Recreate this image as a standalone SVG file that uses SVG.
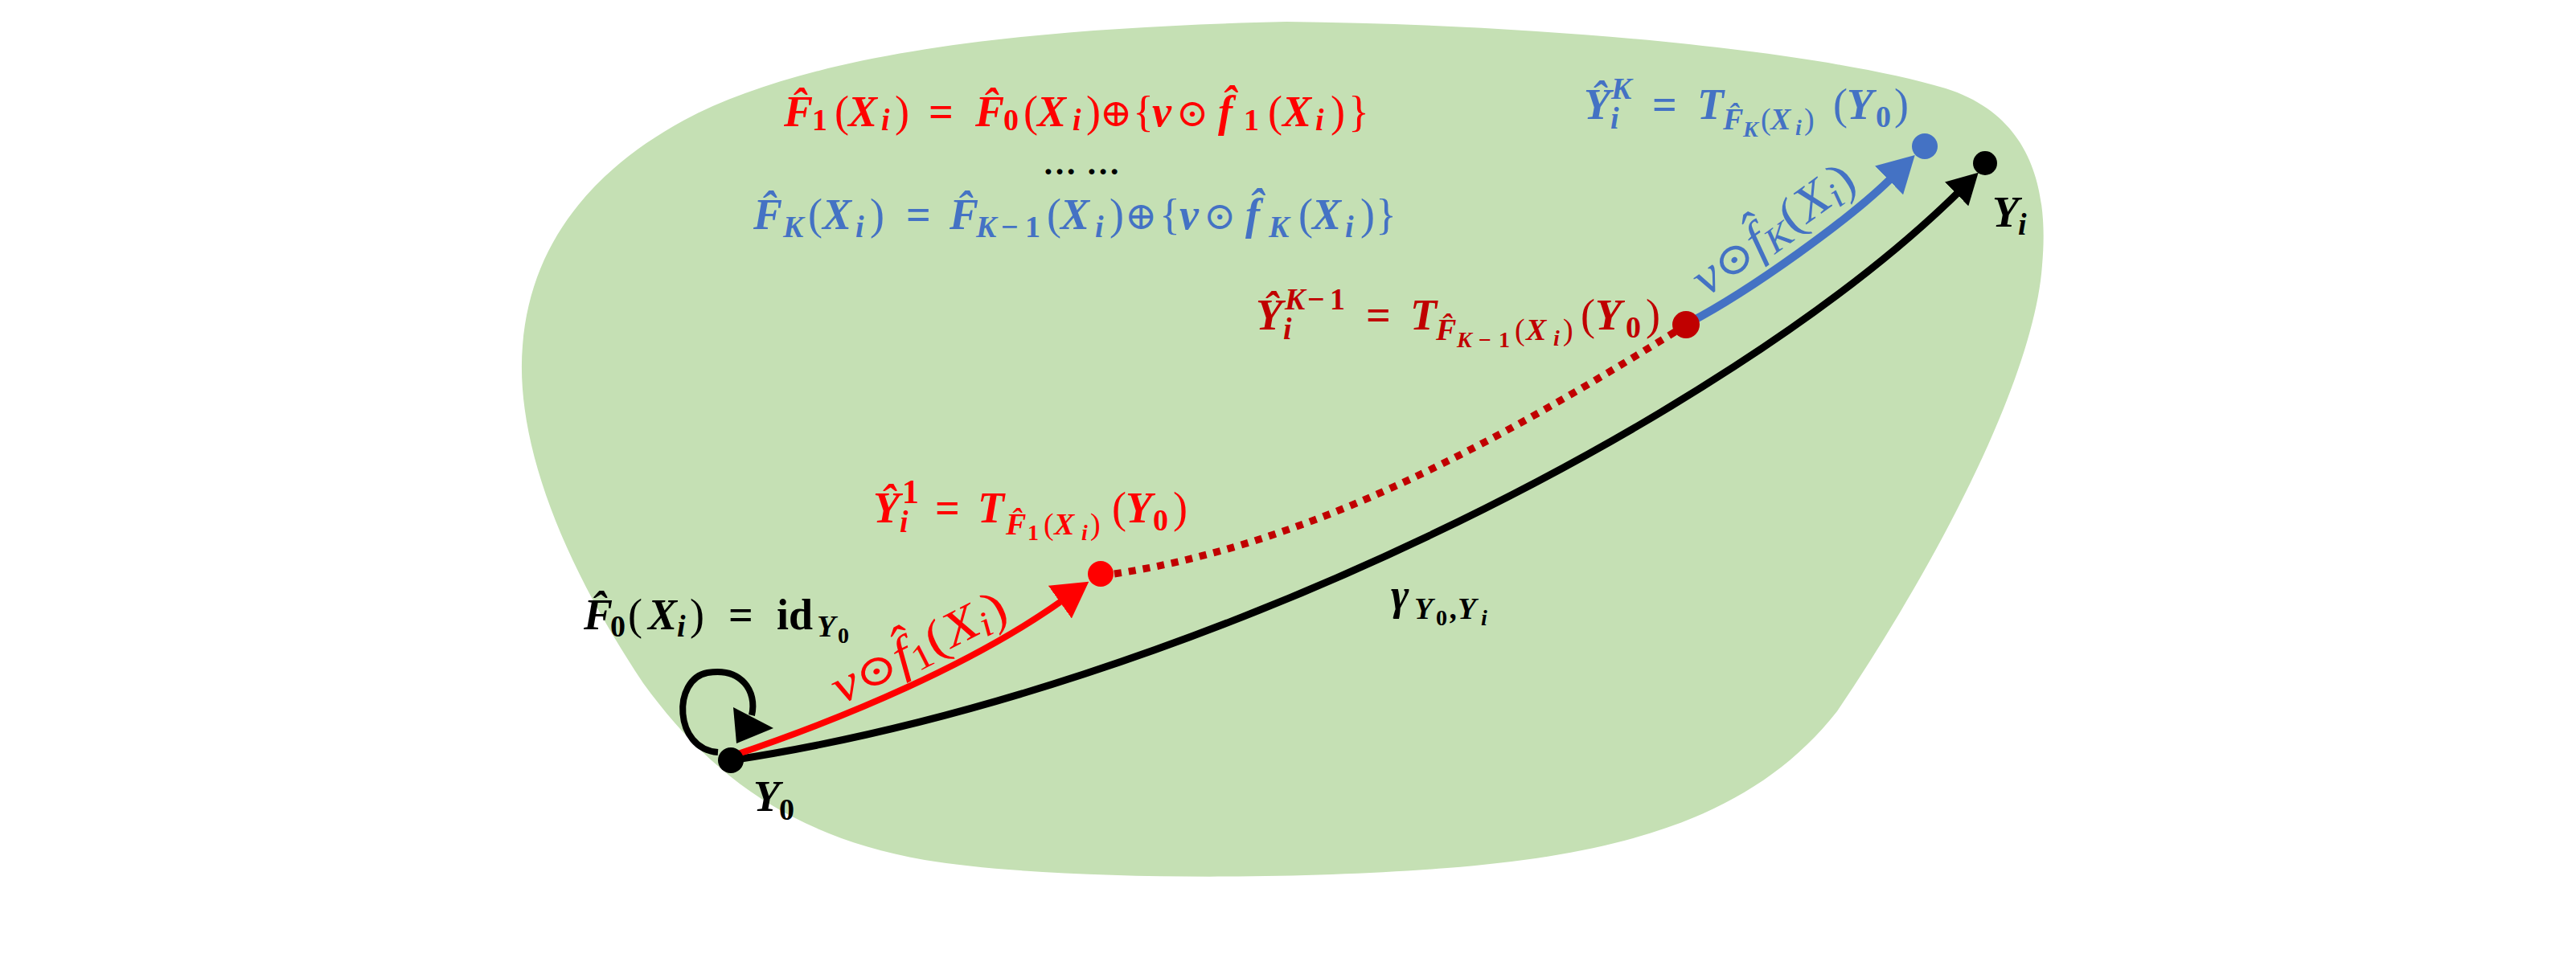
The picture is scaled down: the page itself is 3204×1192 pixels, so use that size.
<svg xmlns="http://www.w3.org/2000/svg" width="3204" height="1192" viewBox="0 0 3204 1192">
<defs>
<style>
.m{font-family:"Liberation Serif","DejaVu Serif",serif;font-size:54px;font-weight:bold;font-style:italic}
.r{font-family:"Liberation Serif","DejaVu Serif",serif;font-size:62px;font-weight:normal;font-style:italic}
.s{font-size:38px}
.rs{font-size:44px}
.sp{font-size:42px}
.ss{font-size:28px}
.op{font-size:48px;font-style:normal;font-weight:normal}
.rop{font-size:54px;font-style:normal;font-weight:normal}
.u{font-style:normal;font-weight:normal}
.ub{font-style:normal}
.red{fill:#FF0000}
.blue{fill:#4472C4}
.dred{fill:#C00000}
.blk{fill:#000000}
.ln{fill:none;stroke-linecap:butt}
</style>
<marker id="ahBlack" markerUnits="userSpaceOnUse" viewBox="0 0 38 42" markerWidth="38" markerHeight="42" refX="2" refY="21" orient="auto"><path d="M0,0 L38,21 L0,42 Z" fill="#000000"/></marker>
<marker id="ahRed" markerUnits="userSpaceOnUse" viewBox="0 0 44 50" markerWidth="44" markerHeight="50" refX="2" refY="25" orient="auto"><path d="M0,0 L44,25 L0,50 Z" fill="#FF0000"/></marker>
<marker id="ahBlue" markerUnits="userSpaceOnUse" viewBox="0 0 45 50" markerWidth="45" markerHeight="50" refX="2" refY="25" orient="auto"><path d="M0,0 L45,25 L0,50 Z" fill="#4472C4"/></marker>
</defs>
<rect width="3204" height="1192" fill="#FFFFFF"/>
<g id="manifold">
<path d="M1600,27 C1900,30 2250,60 2420,110 C2530,145 2548,240 2540,330 C2530,470 2410,700 2285,885 C2185,1012 2030,1062 1800,1080 C1600,1096 1300,1095 1150,1070 C980,1040 880,960 800,850 C700,700 640,550 650,430 C660,300 740,210 850,150 C1000,70 1250,35 1600,27 Z" fill="#C5E0B4"/>
</g>
<g id="connectors">
<path id="c-geodesic" class="ln" d="M909,946 C1480,860 2150,520 2435,240" stroke="#000000" stroke-width="9" marker-end="url(#ahBlack)"/>
<path id="c-step1" class="ln" d="M912,940 C1052,893 1210,826 1320,748" stroke="#FF0000" stroke-width="8" marker-end="url(#ahRed)"/>
<path id="c-dotted" class="ln" d="M1386,714 C1630,677 1858,553 2088,410" stroke="#C00000" stroke-width="9" stroke-dasharray="9 9"/>
<path id="c-stepK" class="ln" d="M2100,402 C2180,360 2301,272 2351,223" stroke="#4472C4" stroke-width="10" marker-end="url(#ahBlue)"/>
<g id="c-loop">
<path class="ln" d="M893,936 C838,932 836,845 880,837 C922,830 942,860 935,890" stroke="#000000" stroke-width="8"/>
<polygon points="912,880 962,906 916,925" fill="#000000"/>
</g>
<text id="lbl-step1" class="r red" x="1046" y="877" transform="rotate(-27 1046 877)" textLength="237" lengthAdjust="spacingAndGlyphs"><tspan>ν</tspan><tspan class="rop">⊙</tspan><tspan>f̂</tspan><tspan class="rs u" dy="7">1</tspan><tspan class="u" dy="-7">(</tspan><tspan>X</tspan><tspan class="rs" dy="7">i</tspan><tspan class="u" dy="-7">)</tspan></text>
<text id="lbl-stepK" class="r blue" x="2122" y="370" transform="rotate(-36 2122 370)" textLength="235" lengthAdjust="spacingAndGlyphs"><tspan>ν</tspan><tspan class="rop">⊙</tspan><tspan>f̂</tspan><tspan class="rs" dy="7">K</tspan><tspan class="u" dy="-7">(</tspan><tspan>X</tspan><tspan class="rs" dy="7">i</tspan><tspan class="u" dy="-7">)</tspan></text>
<text id="lbl-geodesic" class="m blk"><tspan x="1730" y="758">γ</tspan><tspan class="s" x="1759" y="770">Y</tspan><tspan class="ss ub" x="1786" y="778">0</tspan><tspan class="s" x="1804" y="770">,</tspan><tspan class="s" x="1813" y="770">Y</tspan><tspan class="ss" x="1842" y="778">i</tspan></text>
</g>
<g id="eq-F1">
<text class="m red"><tspan x="975" y="157">F̂</tspan><tspan class="s ub" x="1010" y="162">1</tspan><tspan class="u" x="1038" y="157">(</tspan><tspan x="1055" y="157">X</tspan><tspan class="s" x="1096" y="162">i</tspan><tspan class="u" x="1113" y="157">)</tspan><tspan class="ub" x="1155" y="157">=</tspan><tspan x="1213" y="157">F̂</tspan><tspan class="s ub" x="1248" y="162">0</tspan><tspan class="u" x="1273" y="157">(</tspan><tspan x="1290" y="157">X</tspan><tspan class="s" x="1334" y="162">i</tspan><tspan class="u" x="1351" y="157">)</tspan><tspan class="op" x="1368" y="157">⊕</tspan><tspan class="u" x="1409" y="157">{</tspan><tspan x="1433" y="157">ν</tspan><tspan class="op" x="1463" y="157">⊙</tspan><tspan x="1515" y="157">f̂</tspan><tspan class="s ub" x="1547" y="162">1</tspan><tspan class="u" x="1577" y="157">(</tspan><tspan x="1595" y="157">X</tspan><tspan class="s" x="1636" y="162">i</tspan><tspan class="u" x="1655" y="157">)</tspan><tspan class="u" x="1677" y="157">}</tspan></text>
</g>
<g id="eq-dots">
<text class="m ub blk" style="font-size:42px"><tspan x="1297" y="217">…</tspan><tspan x="1351" y="217">…</tspan></text>
</g>
<g id="eq-FK">
<text class="m blue"><tspan x="937" y="285">F̂</tspan><tspan class="s" x="974" y="295">K</tspan><tspan class="u" x="1005" y="285">(</tspan><tspan x="1023" y="285">X</tspan><tspan class="s" x="1064" y="295">i</tspan><tspan class="u" x="1082" y="285">)</tspan><tspan class="ub" x="1127" y="285">=</tspan><tspan x="1181" y="285">F̂</tspan><tspan class="s" x="1214" y="295">K</tspan><tspan class="s ub" x="1245" y="295">−</tspan><tspan class="s ub" x="1275" y="295">1</tspan><tspan class="u" x="1302" y="285">(</tspan><tspan x="1319" y="285">X</tspan><tspan class="s" x="1362" y="295">i</tspan><tspan class="u" x="1380" y="285">)</tspan><tspan class="op" x="1399" y="285">⊕</tspan><tspan class="u" x="1442" y="285">{</tspan><tspan x="1467" y="285">ν</tspan><tspan class="op" x="1497" y="285">⊙</tspan><tspan x="1549" y="285">f̂</tspan><tspan class="s" x="1578" y="295">K</tspan><tspan class="u" x="1615" y="285">(</tspan><tspan x="1632" y="285">X</tspan><tspan class="s" x="1673" y="295">i</tspan><tspan class="u" x="1692" y="285">)</tspan><tspan class="u" x="1711" y="285">}</tspan></text>
</g>
<g id="node-Y0">
<circle cx="909" cy="946" r="16" fill="#000000"/>
<text class="m blk"><tspan x="937" y="1009">Y</tspan><tspan class="s ub" x="969" y="1020">0</tspan></text>
<text class="m blk"><tspan x="726" y="783">F̂</tspan><tspan class="s ub" x="759" y="792">0</tspan><tspan class="u" x="781" y="783">(</tspan><tspan x="806" y="783">X</tspan><tspan class="s" x="842" y="792">i</tspan><tspan class="u" x="858" y="783">)</tspan><tspan class="ub" x="906" y="783">=</tspan><tspan class="ub" x="966" y="783">id</tspan><tspan class="s" x="1016" y="792">Y</tspan><tspan class="ss ub" x="1042" y="800">0</tspan></text>
</g>
<g id="node-Y1">
<circle cx="1369" cy="714" r="16" fill="#FF0000"/>
<text class="m red"><tspan x="1086" y="650">Ŷ</tspan><tspan class="sp ub" x="1122" y="626">1</tspan><tspan class="s" x="1119" y="662">i</tspan><tspan class="ub" x="1163" y="650">=</tspan><tspan x="1216" y="650">T</tspan><tspan class="s" x="1251" y="665">F̂</tspan><tspan class="ss ub" x="1278" y="672">1</tspan><tspan class="s u" x="1298" y="665">(</tspan><tspan class="s" x="1311" y="665">X</tspan><tspan class="ss" x="1345" y="672">i</tspan><tspan class="s u" x="1356" y="665">)</tspan><tspan class="u" x="1383" y="650">(</tspan><tspan x="1400" y="650">Y</tspan><tspan class="s ub" x="1434" y="660">0</tspan><tspan class="u" x="1459" y="650">)</tspan></text>
</g>
<g id="node-YK1">
<circle cx="2097" cy="404" r="17" fill="#C00000"/>
<text class="m dred"><tspan x="1562" y="410">Ŷ</tspan><tspan class="s" x="1598" y="385">K</tspan><tspan class="s ub" x="1626" y="385">−</tspan><tspan class="s ub" x="1654" y="385">1</tspan><tspan class="s" x="1596" y="422">i</tspan><tspan class="ub" x="1699" y="410">=</tspan><tspan x="1754" y="410">T</tspan><tspan class="s" x="1786" y="423">F̂</tspan><tspan class="ss" x="1812" y="432">K</tspan><tspan class="ss ub" x="1839" y="432">−</tspan><tspan class="ss ub" x="1864" y="432">1</tspan><tspan class="s u" x="1884" y="423">(</tspan><tspan class="s" x="1898" y="423">X</tspan><tspan class="ss" x="1932" y="430">i</tspan><tspan class="s u" x="1944" y="423">)</tspan><tspan class="u" x="1966" y="410">(</tspan><tspan x="1984" y="410">Y</tspan><tspan class="s ub" x="2022" y="420">0</tspan><tspan class="u" x="2047" y="410">)</tspan></text>
</g>
<g id="node-YK">
<circle cx="2394" cy="182" r="16" fill="#4472C4"/>
<text class="m blue"><tspan x="1970" y="148">Ŷ</tspan><tspan class="s" x="2004" y="123">K</tspan><tspan class="s" x="2003" y="160">i</tspan><tspan class="ub" x="2055" y="148">=</tspan><tspan x="2111" y="148">T</tspan><tspan class="s" x="2143" y="161">F̂</tspan><tspan class="ss" x="2168" y="170">K</tspan><tspan class="s u" x="2190" y="161">(</tspan><tspan class="s" x="2202" y="161">X</tspan><tspan class="ss" x="2233" y="168">i</tspan><tspan class="s u" x="2244" y="161">)</tspan><tspan class="u" x="2280" y="148">(</tspan><tspan x="2297" y="148">Y</tspan><tspan class="s ub" x="2333" y="158">0</tspan><tspan class="u" x="2356" y="148">)</tspan></text>
</g>
<g id="node-Yi">
<circle cx="2469" cy="203" r="15" fill="#000000"/>
<text class="m blk"><tspan x="2478" y="282">Y</tspan><tspan class="s" x="2510" y="292">i</tspan></text>
</g>
</svg>
